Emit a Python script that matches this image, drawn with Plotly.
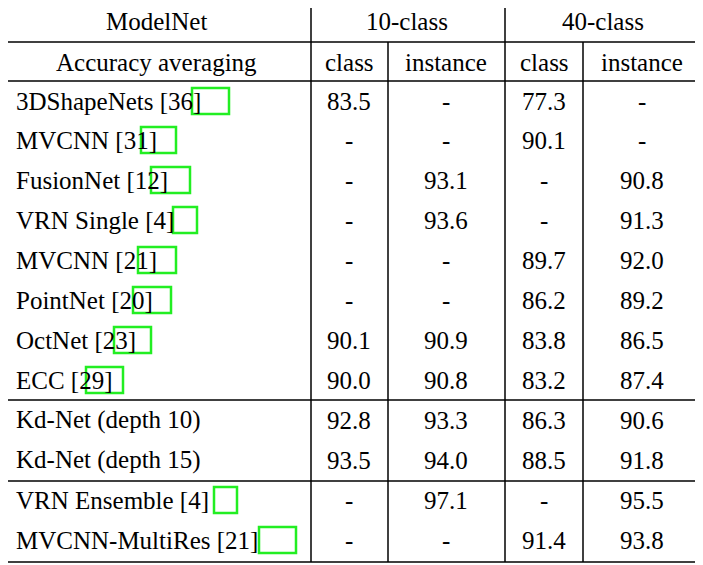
import plotly.graph_objects as go

methods = ["3DShapeNets [36]", "MVCNN [31]", "FusionNet [12]", "VRN Single [4]", "MVCNN [21]",
           "PointNet [20]", "OctNet [23]", "ECC [29]", "Kd-Net (depth 10)", "Kd-Net (depth 15)",
           "VRN Ensemble [4]", "MVCNN-MultiRes [21]"]
c10_class = ["83.5", "-", "-", "-", "-", "-", "90.1", "90.0", "92.8", "93.5", "-", "-"]
c10_inst = ["-", "-", "93.1", "93.6", "-", "-", "90.9", "90.8", "93.3", "94.0", "97.1", "-"]
c40_class = ["77.3", "90.1", "-", "-", "89.7", "86.2", "83.8", "83.2", "86.3", "88.5", "-", "91.4"]
c40_inst = ["-", "-", "90.8", "91.3", "92.0", "89.2", "86.5", "87.4", "90.6", "91.8", "95.5", "93.8"]
header1 = ["ModelNet", "10-class", "40-class"]
header2 = ["Accuracy averaging", "class", "instance", "class", "instance"]

# citation box x-extents (pixels) per row, None if no citation
cite_boxes = [(192, 229), (141, 176), (151, 190), (173, 197), (138, 176), (133, 171),
              (114, 151), (86, 123), None, None, (214, 237), (259, 296)]

W, H = 703, 565
OFF = 8  # page body margin
FONT = dict(family="Liberation Serif, Times New Roman, DejaVu Serif, serif", size=25, color="black")
fig = go.Figure()
ann = []
shapes = []

def txt(x, y, t, anchor="center"):
    ann.append(dict(x=x, y=y, text=t, showarrow=False, xanchor=anchor, yanchor="middle",
                    font=FONT, xref="x", yref="y"))

def line(x0, y0, x1, y1, w=1.5):
    shapes.append(dict(type="line", x0=x0, y0=y0, x1=x1, y1=y1, xref="x", yref="y",
                       line=dict(color="black", width=w)))

txt(156, 21, header1[0]); txt(407, 21, header1[1]); txt(603, 21, header1[2])
hx = [156, 349, 446, 544, 642]
for x, t in zip(hx, header2):
    txt(x, 62, t)

row_y = [101, 140, 180, 220, 260, 300, 340, 380, 420, 460, 500, 540]
for i, y in enumerate(row_y):
    txt(14, y, methods[i], "left")
    txt(349, y, c10_class[i]); txt(446, y, c10_inst[i])
    txt(544, y, c40_class[i]); txt(642, y, c40_inst[i])
    if cite_boxes[i]:
        x0, x1 = cite_boxes[i]
        shapes.append(dict(type="rect", x0=x0, x1=x1, y0=y - 13, y1=y + 13, xref="x", yref="y",
                           line=dict(color="#22ee22", width=2.5)))

for y in [2, 42, 81, 400, 481, 562]:
    line(3, y, 701, y)
line(3, 2, 3, 562); line(701, 2, 701, 562)
line(311, 2, 311, 562); line(505, 2, 505, 562)
line(388, 42, 388, 562); line(583, 42, 583, 562)

fig.update_layout(width=W - OFF, height=H - OFF, margin=dict(l=0, r=0, t=0, b=0),
                  plot_bgcolor="white", paper_bgcolor="white",
                  xaxis=dict(range=[OFF, W], visible=False, fixedrange=True),
                  yaxis=dict(range=[H, OFF], visible=False, fixedrange=True),
                  annotations=ann, shapes=shapes, showlegend=False)
fig.write_html("out.html")
